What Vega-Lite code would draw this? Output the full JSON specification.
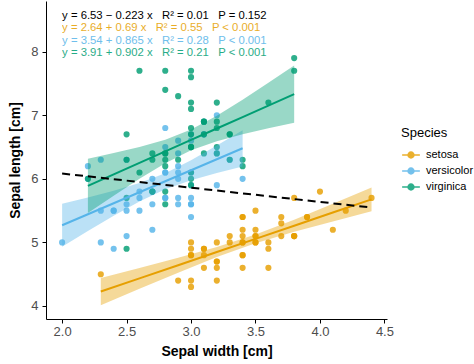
{
  "$schema": "https://vega.github.io/schema/vega-lite/v6.json",
  "width": 341,
  "height": 318,
  "autosize": {"type": "none"},
  "padding": {"left": 46, "top": 1, "right": 87, "bottom": 45},
  "background": "white",
  "config": {
    "view": {"stroke": null},
    "font": "Liberation Sans",
    "axis": {"domainColor": "black", "tickColor": "black", "labelColor": "#4d4d4d", "labelFontSize": 13, "titleFontSize": 14, "titleFontWeight": "bold", "titleColor": "black", "grid": false, "tickSize": 4, "labelFont": "Liberation Sans", "titleFont": "Liberation Sans", "domainWidth": 1, "tickWidth": 1},
    "legend": {"labelFont": "Liberation Sans", "titleFont": "Liberation Sans"}
  },
  "datasets": {
    "iris": [
      {"species":"setosa","length":5.1,"width":3.5},{"species":"setosa","length":4.9,"width":3.0},{"species":"setosa","length":4.7,"width":3.2},{"species":"setosa","length":4.6,"width":3.1},{"species":"setosa","length":5.0,"width":3.6},
      {"species":"setosa","length":5.4,"width":3.9},{"species":"setosa","length":4.6,"width":3.4},{"species":"setosa","length":5.0,"width":3.4},{"species":"setosa","length":4.4,"width":2.9},{"species":"setosa","length":4.9,"width":3.1},
      {"species":"setosa","length":5.4,"width":3.7},{"species":"setosa","length":4.8,"width":3.4},{"species":"setosa","length":4.8,"width":3.0},{"species":"setosa","length":4.3,"width":3.0},{"species":"setosa","length":5.8,"width":4.0},
      {"species":"setosa","length":5.7,"width":4.4},{"species":"setosa","length":5.4,"width":3.9},{"species":"setosa","length":5.1,"width":3.5},{"species":"setosa","length":5.7,"width":3.8},{"species":"setosa","length":5.1,"width":3.8},
      {"species":"setosa","length":5.4,"width":3.4},{"species":"setosa","length":5.1,"width":3.7},{"species":"setosa","length":4.6,"width":3.6},{"species":"setosa","length":5.1,"width":3.3},{"species":"setosa","length":4.8,"width":3.4},
      {"species":"setosa","length":5.0,"width":3.0},{"species":"setosa","length":5.0,"width":3.4},{"species":"setosa","length":5.2,"width":3.5},{"species":"setosa","length":5.2,"width":3.4},{"species":"setosa","length":4.7,"width":3.2},
      {"species":"setosa","length":4.8,"width":3.1},{"species":"setosa","length":5.4,"width":3.4},{"species":"setosa","length":5.2,"width":4.1},{"species":"setosa","length":5.5,"width":4.2},{"species":"setosa","length":4.9,"width":3.1},
      {"species":"setosa","length":5.0,"width":3.2},{"species":"setosa","length":5.5,"width":3.5},{"species":"setosa","length":4.9,"width":3.6},{"species":"setosa","length":4.4,"width":3.0},{"species":"setosa","length":5.1,"width":3.4},
      {"species":"setosa","length":5.0,"width":3.5},{"species":"setosa","length":4.5,"width":2.3},{"species":"setosa","length":4.4,"width":3.2},{"species":"setosa","length":5.0,"width":3.5},{"species":"setosa","length":5.1,"width":3.8},
      {"species":"setosa","length":4.8,"width":3.0},{"species":"setosa","length":5.1,"width":3.8},{"species":"setosa","length":4.6,"width":3.2},{"species":"setosa","length":5.3,"width":3.7},{"species":"setosa","length":5.0,"width":3.3},
      {"species":"versicolor","length":7.0,"width":3.2},{"species":"versicolor","length":6.4,"width":3.2},{"species":"versicolor","length":6.9,"width":3.1},{"species":"versicolor","length":5.5,"width":2.3},{"species":"versicolor","length":6.5,"width":2.8},
      {"species":"versicolor","length":5.7,"width":2.8},{"species":"versicolor","length":6.3,"width":3.3},{"species":"versicolor","length":4.9,"width":2.4},{"species":"versicolor","length":6.6,"width":2.9},{"species":"versicolor","length":5.2,"width":2.7},
      {"species":"versicolor","length":5.0,"width":2.0},{"species":"versicolor","length":5.9,"width":3.0},{"species":"versicolor","length":6.0,"width":2.2},{"species":"versicolor","length":6.1,"width":2.9},{"species":"versicolor","length":5.6,"width":2.9},
      {"species":"versicolor","length":6.7,"width":3.1},{"species":"versicolor","length":5.6,"width":3.0},{"species":"versicolor","length":5.8,"width":2.7},{"species":"versicolor","length":6.2,"width":2.2},{"species":"versicolor","length":5.6,"width":2.5},
      {"species":"versicolor","length":5.9,"width":3.2},{"species":"versicolor","length":6.1,"width":2.8},{"species":"versicolor","length":6.3,"width":2.5},{"species":"versicolor","length":6.1,"width":2.8},{"species":"versicolor","length":6.4,"width":2.9},
      {"species":"versicolor","length":6.6,"width":3.0},{"species":"versicolor","length":6.8,"width":2.8},{"species":"versicolor","length":6.7,"width":3.0},{"species":"versicolor","length":6.0,"width":2.9},{"species":"versicolor","length":5.7,"width":2.6},
      {"species":"versicolor","length":5.5,"width":2.4},{"species":"versicolor","length":5.5,"width":2.4},{"species":"versicolor","length":5.8,"width":2.7},{"species":"versicolor","length":6.0,"width":2.7},{"species":"versicolor","length":5.4,"width":3.0},
      {"species":"versicolor","length":6.0,"width":3.4},{"species":"versicolor","length":6.7,"width":3.1},{"species":"versicolor","length":6.3,"width":2.3},{"species":"versicolor","length":5.6,"width":3.0},{"species":"versicolor","length":5.5,"width":2.5},
      {"species":"versicolor","length":5.5,"width":2.6},{"species":"versicolor","length":6.1,"width":3.0},{"species":"versicolor","length":5.8,"width":2.6},{"species":"versicolor","length":5.0,"width":2.3},{"species":"versicolor","length":5.6,"width":2.7},
      {"species":"versicolor","length":5.7,"width":3.0},{"species":"versicolor","length":5.7,"width":2.9},{"species":"versicolor","length":6.2,"width":2.9},{"species":"versicolor","length":5.1,"width":2.5},{"species":"versicolor","length":5.7,"width":2.8},
      {"species":"virginica","length":6.3,"width":3.3},{"species":"virginica","length":5.8,"width":2.7},{"species":"virginica","length":7.1,"width":3.0},{"species":"virginica","length":6.3,"width":2.9},{"species":"virginica","length":6.5,"width":3.0},
      {"species":"virginica","length":7.6,"width":3.0},{"species":"virginica","length":4.9,"width":2.5},{"species":"virginica","length":7.3,"width":2.9},{"species":"virginica","length":6.7,"width":2.5},{"species":"virginica","length":7.2,"width":3.6},
      {"species":"virginica","length":6.5,"width":3.2},{"species":"virginica","length":6.4,"width":2.7},{"species":"virginica","length":6.8,"width":3.0},{"species":"virginica","length":5.7,"width":2.5},{"species":"virginica","length":5.8,"width":2.8},
      {"species":"virginica","length":6.4,"width":3.2},{"species":"virginica","length":6.5,"width":3.0},{"species":"virginica","length":7.7,"width":3.8},{"species":"virginica","length":7.7,"width":2.6},{"species":"virginica","length":6.0,"width":2.2},
      {"species":"virginica","length":6.9,"width":3.2},{"species":"virginica","length":5.6,"width":2.8},{"species":"virginica","length":7.7,"width":2.8},{"species":"virginica","length":6.3,"width":2.7},{"species":"virginica","length":6.7,"width":3.3},
      {"species":"virginica","length":7.2,"width":3.2},{"species":"virginica","length":6.2,"width":2.8},{"species":"virginica","length":6.1,"width":3.0},{"species":"virginica","length":6.4,"width":2.8},{"species":"virginica","length":7.2,"width":3.0},
      {"species":"virginica","length":7.4,"width":2.8},{"species":"virginica","length":7.9,"width":3.8},{"species":"virginica","length":6.4,"width":2.8},{"species":"virginica","length":6.3,"width":2.8},{"species":"virginica","length":6.1,"width":2.6},
      {"species":"virginica","length":7.7,"width":3.0},{"species":"virginica","length":6.3,"width":3.4},{"species":"virginica","length":6.4,"width":3.1},{"species":"virginica","length":6.0,"width":3.0},{"species":"virginica","length":6.9,"width":3.1},
      {"species":"virginica","length":6.7,"width":3.1},{"species":"virginica","length":6.9,"width":3.1},{"species":"virginica","length":5.8,"width":2.7},{"species":"virginica","length":6.8,"width":3.2},{"species":"virginica","length":6.7,"width":3.3},
      {"species":"virginica","length":6.7,"width":3.0},{"species":"virginica","length":6.3,"width":2.5},{"species":"virginica","length":6.5,"width":3.0},{"species":"virginica","length":6.2,"width":3.4},{"species":"virginica","length":5.9,"width":3.0}
    ],
    "fits": [
      {"species":"setosa","width":2.3,"length":4.227,"lo":4.012,"hi":4.442},
      {"species":"setosa","width":2.6,"length":4.434,"lo":4.270,"hi":4.599},
      {"species":"setosa","width":2.9,"length":4.642,"lo":4.524,"hi":4.759},
      {"species":"setosa","width":3.2,"length":4.849,"lo":4.769,"hi":4.928},
      {"species":"setosa","width":3.5,"length":5.056,"lo":4.987,"hi":5.125},
      {"species":"setosa","width":3.8,"length":5.263,"lo":5.167,"hi":5.358},
      {"species":"setosa","width":4.1,"length":5.470,"lo":5.331,"hi":5.609},
      {"species":"setosa","width":4.4,"length":5.677,"lo":5.489,"hi":5.865},
      {"species":"versicolor","width":2.0,"length":5.270,"lo":4.933,"hi":5.607},
      {"species":"versicolor","width":2.2,"length":5.443,"lo":5.179,"hi":5.707},
      {"species":"versicolor","width":2.4,"length":5.616,"lo":5.420,"hi":5.812},
      {"species":"versicolor","width":2.6,"length":5.789,"lo":5.645,"hi":5.933},
      {"species":"versicolor","width":2.8,"length":5.962,"lo":5.835,"hi":6.089},
      {"species":"versicolor","width":3.0,"length":6.135,"lo":5.978,"hi":6.292},
      {"species":"versicolor","width":3.2,"length":6.308,"lo":6.093,"hi":6.523},
      {"species":"versicolor","width":3.4,"length":6.481,"lo":6.196,"hi":6.766},
      {"species":"virginica","width":2.2,"length":5.890,"lo":5.464,"hi":6.316},
      {"species":"virginica","width":2.4,"length":6.071,"lo":5.736,"hi":6.405},
      {"species":"virginica","width":2.6,"length":6.251,"lo":6.001,"hi":6.501},
      {"species":"virginica","width":2.8,"length":6.431,"lo":6.246,"hi":6.616},
      {"species":"virginica","width":3.0,"length":6.612,"lo":6.448,"hi":6.775},
      {"species":"virginica","width":3.2,"length":6.792,"lo":6.593,"hi":6.991},
      {"species":"virginica","width":3.4,"length":6.972,"lo":6.701,"hi":7.243},
      {"species":"virginica","width":3.6,"length":7.152,"lo":6.795,"hi":7.510},
      {"species":"virginica","width":3.8,"length":7.333,"lo":6.882,"hi":7.783}
    ],
    "overall": [
      {"width":2.0,"length":6.084},
      {"width":4.4,"length":5.548}
    ],
    "eqAll": [
      {"width":2.0,"length":8.56,"label":"y = 6.53 − 0.223 x\u00a0\u00a0\u00a0R² = 0.01\u00a0\u00a0\u00a0P = 0.152"}
    ],
    "eqSp": [
      {"species":"setosa","width":2.0,"length":8.365,"label":"y = 2.64 + 0.69 x\u00a0\u00a0\u00a0R² = 0.55\u00a0\u00a0\u00a0P < 0.001"},
      {"species":"versicolor","width":2.0,"length":8.168,"label":"y = 3.54 + 0.865 x\u00a0\u00a0\u00a0R² = 0.28\u00a0\u00a0\u00a0P < 0.001"},
      {"species":"virginica","width":2.0,"length":7.972,"label":"y = 3.91 + 0.902 x\u00a0\u00a0\u00a0R² = 0.21\u00a0\u00a0\u00a0P < 0.001"}
    ]
  },
  "encoding": {
    "x": {"field": "width", "type": "quantitative", "title": "Sepal width [cm]",
      "scale": {"domain": [1.875, 4.52], "nice": false, "zero": false},
      "axis": {"values": [2.0, 2.5, 3.0, 3.5, 4.0, 4.5], "format": ".1f", "labelPadding": 2, "titlePadding": 6}},
    "y": {"field": "length", "type": "quantitative", "title": "Sepal length [cm]",
      "scale": {"domain": [3.7955, 8.7975], "nice": false, "zero": false},
      "axis": {"values": [4, 5, 6, 7, 8], "format": "d", "labelPadding": 4, "titlePadding": 8}}
  },
  "layer": [
    {
      "data": {"name": "iris"},
      "mark": {"type": "circle", "size": 38, "opacity": 0.82},
      "encoding": {
        "color": {"field": "species", "type": "nominal",
          "scale": {"domain": ["setosa", "versicolor", "virginica"], "range": ["#E69F00", "#56B4E9", "#009E73"]},
          "legend": {"title": "Species", "orient": "none", "legendX": 355, "legendY": 126,
            "symbolType": "M-1,0H1M0.33,0A0.33,0.33,0,1,1,-0.33,0A0.33,0.33,0,1,1,0.33,0Z",
            "symbolSize": 314, "symbolStrokeWidth": 1.5, "rowPadding": 0, "labelFontSize": 11, "labelColor": "black",
            "titleFontSize": 13, "titleFontWeight": "normal", "titleColor": "black", "labelOffset": 5, "titlePadding": 5,
            "encode": {"symbols": {"update": {"fill": {"scale": "color", "field": "value"}, "stroke": {"scale": "color", "field": "value"}, "opacity": {"value": 1}}}}}}
      }
    },
    {
      "data": {"name": "fits"},
      "mark": {"type": "area", "fillOpacity": 0.4},
      "encoding": {
        "y": {"field": "lo", "type": "quantitative", "title": "Sepal length [cm]",
          "scale": {"domain": [3.7955, 8.7975], "nice": false, "zero": false}},
        "y2": {"field": "hi"},
        "fill": {"field": "species", "type": "nominal",
          "scale": {"domain": ["setosa", "versicolor", "virginica"], "range": ["#E69F00", "#56B4E9", "#009E73"]},
          "legend": {"title": "Species", "orient": "none", "legendX": 355, "legendY": 126,
            "symbolType": "square", "symbolSize": 314, "symbolStrokeWidth": 0, "symbolOpacity": 0.4, "rowPadding": 0,
            "labelFontSize": 11, "labelColor": "transparent", "titleFontSize": 13, "titleFontWeight": "normal",
            "titleColor": "transparent", "labelOffset": 5, "titlePadding": 5}}
      }
    },
    {
      "data": {"name": "fits"},
      "mark": {"type": "line", "strokeWidth": 2},
      "encoding": {
        "color": {"field": "species", "type": "nominal"}
      }
    },
    {
      "data": {"name": "overall"},
      "mark": {"type": "line", "strokeWidth": 2, "color": "black", "strokeDash": [8, 5]},
      "encoding": {}
    },
    {
      "data": {"name": "eqAll"},
      "mark": {"type": "text", "align": "left", "baseline": "middle", "fontSize": 11.3, "color": "black"},
      "encoding": {"text": {"field": "label"}}
    },
    {
      "data": {"name": "eqSp"},
      "mark": {"type": "text", "align": "left", "baseline": "middle", "fontSize": 11.3, "opacity": 0.85},
      "encoding": {"text": {"field": "label"}, "color": {"field": "species", "type": "nominal"}}
    }
  ]
}
